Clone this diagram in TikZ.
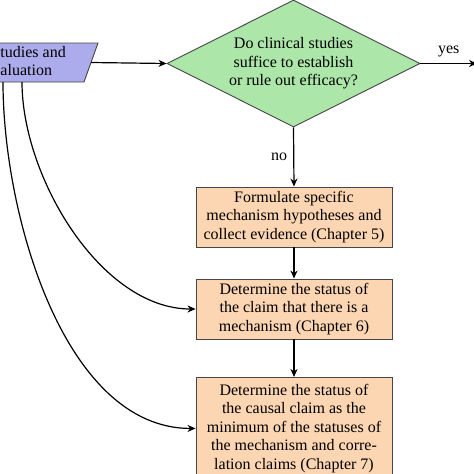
\documentclass[tikz,border=0pt]{standalone}
\usepackage{fontspec}
\setmainfont{Liberation Serif}
\usetikzlibrary{shapes.geometric,arrows.meta}
\definecolor{boxfill}{RGB}{252,213,178}
\definecolor{dfill}{RGB}{172,230,168}
\definecolor{pfill}{RGB}{172,172,236}
\definecolor{edge}{RGB}{70,70,70}
\tikzset{
  stepbox/.style={rectangle, draw=edge, fill=boxfill, line width=0.9pt,
    minimum width=196pt, minimum height=60pt, inner sep=0pt, align=center},
  decision/.style={diamond, draw=edge, fill=dfill, line width=0.9pt, aspect=2,
    minimum width=253pt, minimum height=127pt, inner sep=0pt, align=center},
  conn/.style={line width=1.2pt, -{Stealth[length=8pt,width=7pt,inset=2.5pt]}},
  lbl/.style={inner sep=0pt}
}
\begin{document}
\begin{tikzpicture}[x=1pt,y=-1pt,font=\fontsize{16}{18.5}\selectfont]
\useasboundingbox (0,0) rectangle (474,474);
\clip (0,0) rectangle (474,474);
% parallelogram (cut off at the left)
\draw[draw=edge, fill=pfill, line width=0.9pt] (-20,43) -- (98,43) -- (84,82) -- (-20,82) -- cycle;
\node[lbl, anchor=base west] (p1) at (0.3,57.5) {tudies and};
\node[lbl, anchor=base west] (p2) at (0.3,75.5) {aluation};
\coordinate (pr) at (91,62.5);
\coordinate (pa) at (3,82);
\coordinate (pb) at (22,82);
% decision
\node[decision] (d) at (293.5,63.5) {Do clinical studies\\suffice to establish\\or rule out efficacy?};
% boxes
\node[stepbox] (b1) at (294,217) {Formulate specific\\mechanism hypotheses and\\collect evidence (Chapter 5)};
\node[stepbox] (b2) at (294,309) {Determine the status of\\the claim that there is a\\mechanism (Chapter 6)};
\node[stepbox, minimum height=102pt, anchor=north] (b3) at (294,377) {Determine the status of\\the causal claim as the\\minimum of the statuses of\\the mechanism and corre-\\lation claims (Chapter 7)};
\coordinate (yesend) at (477,63.5);
% connectors
\draw[conn] (pr) -- (d.west);
\draw[conn] (d.east) -- node[lbl, above=6pt, pos=0.5] (yes) {yes} (yesend);
\draw[conn] (d.south) -- node[lbl, left=6pt, pos=0.5] (no) {no} (b1.north);
\draw[conn] (b1.south) -- (b2.north);
\draw[conn] (b2.south) -- (b3.north);
\draw[conn] (pb) to[out=-90, in=180, looseness=0.85] (b2.west);
\draw[conn] (pa) to[out=-90, in=180, looseness=0.85] (b3.west);
\end{tikzpicture}
\end{document}
